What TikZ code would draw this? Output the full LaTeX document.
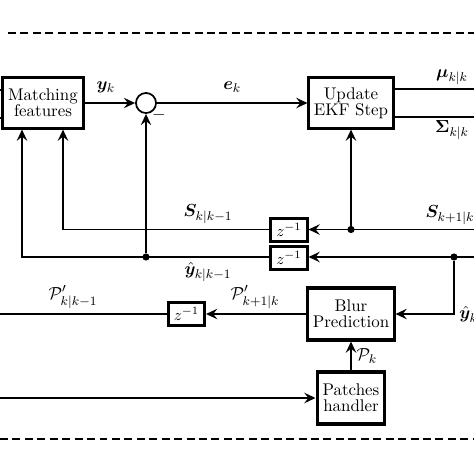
\documentclass[tikz,border=0pt]{standalone}
\usepackage{amsmath,amssymb,bm}
\usetikzlibrary{arrows.meta,calc}
\begin{document}
\begin{tikzpicture}[x=0.627pt,y=-0.627pt,
  every node/.style={font=\fontsize{11}{12.5}\selectfont},
  blk/.style={draw, line width=1.9pt, inner sep=0pt, align=center, font=\fontsize{10.6}{12.2}\selectfont},
  conn/.style={line width=1.1pt},
  arr/.style={conn, -{Stealth[length=7pt,width=6.5pt,inset=2.5pt]}},
  zbox/.style={draw, line width=1.9pt, inner sep=0pt, minimum width=22.6pt, minimum height=15pt, font=\fontsize{10}{11}\selectfont},
  dot/.style={circle, fill=black, inner sep=0pt, minimum size=4.5pt},
  sep/.style={dash pattern=on 5pt off 2.8pt, line width=1.1pt},
  lbl/.style={inner sep=0pt}]
\useasboundingbox (0,0) rectangle (474,474);
\clip (0,0) rectangle (474,474);
% separators
\draw[sep] (8,33) -- (474,33);
\draw[sep] (0,439) -- (474,439);
% blocks
\node[blk, minimum width=50.2pt, minimum height=31.4pt] (mf) at (43,103) {Matching\\[-2pt]features};
\node[draw, circle, line width=1.1pt, minimum size=12.6pt, inner sep=0pt] (sum) at (146,103) {};
\node[blk, minimum width=52.7pt, minimum height=31.4pt] (upd) at (351,103) {Update\\[-2pt]EKF Step};
\node[zbox] (z1) at (289,230) {$z^{-1}$};
\node[zbox] (z2) at (289,258) {$z^{-1}$};
\node[zbox] (z3) at (186.5,314) {$z^{-1}$};
\node[blk, minimum width=54pt, minimum height=32.6pt] (blur) at (351,314) {Blur\\[-2pt]Prediction};
\node[blk, minimum width=42.6pt, minimum height=32.6pt] (ph) at (351,398) {Patches\\[-2pt]handler};
% coordinates
\coordinate (in1) at (0,90);
\coordinate (in2) at (0,118);
\coordinate (mu) at (474,89);
\coordinate (sig) at (474,117);
\coordinate (sin) at (474,229.5);
\coordinate (yin) at (474,257);
\coordinate (c63) at (63,0);
\coordinate (c22) at (22,0);
\coordinate (pl) at (0,314);
\coordinate (pin) at (0,398);
\node[dot] (js) at (351,229.5) {};
\node[dot] (jd) at (454,257) {};
\node[dot] (jy) at (146,257) {};
% connectors
\draw[conn] (in1) -- (mf.west |- in1);
\draw[conn] (in2) -- (mf.west |- in2);
\draw[arr] (mf.east) -- (sum.west) node[lbl, pos=0.42, above=6pt] {$\bm{y}_k$};
\draw[arr] (sum.east) -- (upd.west) node[lbl, midway, above=6pt] {$\bm{e}_k$};
\node[lbl] at (159,115) {$-$};
\draw[conn] (upd.east |- mu) -- (mu);
\draw[conn] (upd.east |- sig) -- (sig);
\node[lbl] at (452,77) {$\bm{\mu}_{k|k}$};
\node[lbl] at (452,130) {$\bm{\Sigma}_{k|k}$};
\draw[arr] (sin) -- (z1.east |- sin);
\draw[arr] (js) -- (upd.south);
\node[lbl] at (450,215) {$\bm{S}_{k+1|k}$};
\draw[arr] (z1.west |- sin) -| (mf.south -| c63);
\node[lbl] at (208,214) {$\bm{S}_{k|k-1}$};
\draw[arr] (yin) -- (z2.east |- yin);
\draw[arr] (z2.west |- yin) -| (mf.south -| c22);
\draw[arr] (jy) -- (sum.south);
\node[lbl] at (208,272) {$\hat{\bm{y}}_{k|k-1}$};
\draw[arr] (jd) |- (blur.east);
\node[lbl, anchor=west] at (459,316) {$\hat{\bm{y}}_{k+1|k}$};
\draw[arr] (blur.west) -- (z3.east);
\node[lbl] at (255,297) {$\mathcal{P}'_{k+1|k}$};
\draw[conn] (z3.west) -- (pl);
\node[lbl] at (73,297) {$\mathcal{P}'_{k|k-1}$};
\draw[arr] (ph.north) -- (blur.south) node[lbl, midway, right=3pt] {$\mathcal{P}_k$};
\draw[arr] (pin) -- (ph.west);
\end{tikzpicture}
\end{document}
